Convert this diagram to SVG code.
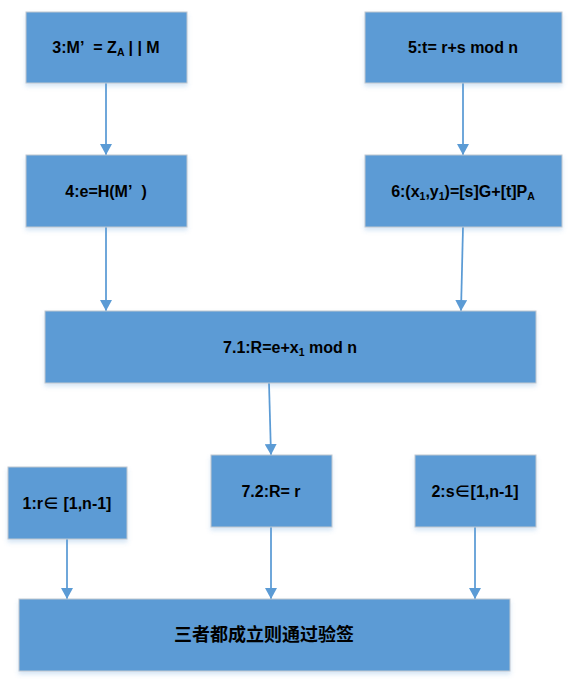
<svg xmlns="http://www.w3.org/2000/svg" width="571" height="679" viewBox="0 0 571 679">
<defs>
<filter id="sh" x="-10%" y="-10%" width="120%" height="130%">
<feDropShadow dx="0" dy="3" stdDeviation="2" flood-color="#5B9BD5" flood-opacity="0.25"/>
</filter>
<marker id="ah" viewBox="0 0 11 12" refX="11" refY="6" markerWidth="11" markerHeight="12" markerUnits="userSpaceOnUse" orient="auto">
<path d="M0,0 L11,6 L0,12 z" fill="#5B9BD5"/>
</marker>
</defs>
<style>
.box{fill:#5B9BD5;stroke:#C0C8D0;stroke-width:1;filter:url(#sh)}
.t{font-family:"Liberation Sans","Noto Sans CJK SC",sans-serif;font-weight:bold;font-size:16px;fill:#000;text-anchor:middle}
.cj{font-family:"Noto Sans CJK SC",sans-serif;font-weight:bold;font-size:18px;fill:#000;text-anchor:middle}
.sub{font-size:10.5px}
.c{fill:none;stroke:#5B9BD5;stroke-width:1.75;marker-end:url(#ah)}
</style>
<g id="connectors">
<line class="c" x1="106" y1="83" x2="106" y2="155"/>
<line class="c" x1="463" y1="83" x2="463" y2="155"/>
<line class="c" x1="106" y1="227" x2="106" y2="311"/>
<line class="c" x1="463" y1="227" x2="461" y2="311"/>
<line class="c" x1="269" y1="383" x2="271" y2="455"/>
<line class="c" x1="67" y1="539" x2="67" y2="599"/>
<line class="c" x1="271" y1="527" x2="271" y2="599"/>
<line class="c" x1="475" y1="527" x2="475" y2="599"/>
</g>
<g id="n3">
<rect class="box" x="26" y="12" width="161" height="71"/>
<text class="t" x="106" y="53">3:M’<tspan dx="9">= Z</tspan><tspan class="sub" dy="3">A</tspan><tspan dy="-3" dx="4">| | M</tspan></text>
</g>
<g id="n4">
<rect class="box" x="26" y="155" width="161" height="72"/>
<text class="t" x="106" y="197">4:e=H(M’<tspan dx="9">)</tspan></text>
</g>
<g id="n5">
<rect class="box" x="365" y="12" width="197" height="71"/>
<text class="t" x="463" y="53">5:t= r+s mod n</text>
</g>
<g id="n6">
<rect class="box" x="365" y="155" width="197" height="72"/>
<text class="t" x="463" y="197">6:(x<tspan class="sub" dy="3">1</tspan><tspan dy="-3">,y</tspan><tspan class="sub" dy="3">1</tspan><tspan dy="-3">)=[s]G+[t]P</tspan><tspan class="sub" dy="3">A</tspan></text>
</g>
<g id="n71">
<rect class="box" x="45" y="311" width="491" height="72"/>
<text class="t" x="290" y="353">7.1:R=e+x<tspan class="sub" dy="3">1</tspan><tspan dy="-3"> mod n</tspan></text>
</g>
<g id="n72">
<rect class="box" x="211" y="455" width="121" height="72"/>
<text class="t" x="271" y="497">7.2:R= r</text>
</g>
<g id="n1">
<rect class="box" x="8" y="467" width="119" height="72"/>
<text class="t" x="67" y="509">1:r∈ [1,n-1]</text>
</g>
<g id="n2">
<rect class="box" x="415" y="455" width="121" height="72"/>
<text class="t" x="475" y="497">2:s∈[1,n-1]</text>
</g>
<g id="nend">
<rect class="box" x="19" y="599" width="491" height="72"/>
<text class="cj" x="264" y="641">三者都成立则通过验签</text>
</g>
</svg>
